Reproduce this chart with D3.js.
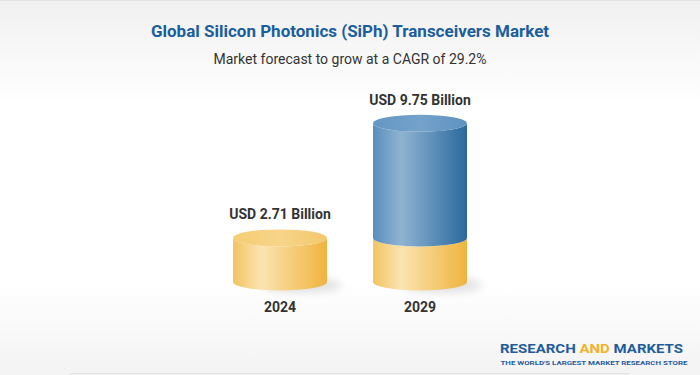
<!DOCTYPE html>
<html>
<head>
<meta charset="utf-8">
<script src="https://cdn.jsdelivr.net/npm/d3@7"></script>
<style>
  body { margin: 0; background: #fff; }
  svg { display: block; font-family: Roboto, "Noto Sans", sans-serif; }
</style>
</head>
<body>
<div id="chart"></div>
<script>
// chart data
const years = ["2024", "2029"];
const baseValues = [2.71, 2.71];   // yellow part (base year value)
const totalValues = [2.71, 9.75];  // full cylinder height
const valueLabels = ["USD 2.71 Billion", "USD 9.75 Billion"];

const title = "Global Silicon Photonics (SiPh) Transceivers Market";
const subtitle = "Market forecast to grow at a CAGR of 29.2%";

const width = 700;
const height = 375;

const svg = d3
	.select("#chart")
	.append("svg")
	.attr("width", width)
	.attr("height", height);

const defs = svg.append("defs");

// background gradient
const bg = defs
	.append("linearGradient")
	.attr("id", "bg")
	.attr("x1", 0).attr("y1", 0).attr("x2", 0).attr("y2", 1);
bg.append("stop").attr("offset", "0%").attr("stop-color", "#f0f0f0");
bg.append("stop").attr("offset", "28%").attr("stop-color", "#ffffff");
bg.append("stop").attr("offset", "75%").attr("stop-color", "#ffffff");
bg.append("stop").attr("offset", "100%").attr("stop-color", "#f3f3f3");

// horizontal shading for cylinders
function sideGradient(id, stops) {
	const g = defs
		.append("linearGradient")
		.attr("id", id)
		.attr("x1", 0).attr("y1", 0).attr("x2", 1).attr("y2", 0);
	stops.forEach(([o, c]) => g.append("stop").attr("offset", o).attr("stop-color", c));
}
sideGradient("yellowSide", [["0%", "#f2c461"], ["30%", "#fbe3b1"], ["100%", "#efb43e"]]);
sideGradient("blueSide", [["0%", "#5a8ebc"], ["30%", "#8fb3d2"], ["100%", "#2a699e"]]);
sideGradient("yellowTop", [["0%", "#f5cd74"], ["50%", "#f7d48a"], ["100%", "#f3c86d"]]);
sideGradient("blueTop", [["0%", "#6497c3"], ["50%", "#74a2ca"], ["100%", "#5e92c0"]]);

defs
	.append("filter")
	.attr("id", "blur")
	.attr("x", "-50%").attr("y", "-50%").attr("width", "200%").attr("height", "200%")
	.append("feGaussianBlur")
	.attr("stdDeviation", 5);

svg.append("rect").attr("width", width).attr("height", height).attr("fill", "url(#bg)");
svg.append("line")
	.attr("x1", 0).attr("x2", width).attr("y1", 0.5).attr("y2", 0.5)
	.attr("stroke", "#e4e4e4");
svg.append("line")
	.attr("x1", 70).attr("x2", 630).attr("y1", 373.5).attr("y2", 373.5)
	.attr("stroke", "#e2e2e2");

// titles
svg.append("text")
	.attr("x", width / 2)
	.attr("y", 37)
	.attr("text-anchor", "middle")
	.style("font-size", "17px")
	.style("font-weight", "bold")
	.style("fill", "#1b5e9c")
	.text(title);

svg.append("text")
	.attr("x", width / 2)
	.attr("y", 64)
	.attr("text-anchor", "middle")
	.style("font-size", "14px")
	.style("fill", "#333")
	.text(subtitle);

// scales
const xScale = d3
	.scaleBand()
	.domain(years)
	.range([210, 490])
	.paddingInner(46 / 140)
	.paddingOuter(0.1643);

const yScale = d3.scaleLinear().domain([0, 10]).range([282, 119.2]);

const rx = xScale.bandwidth() / 2;
const ry = 8.5;

// body of a cylinder segment: lower-half arcs at top and bottom
function bodyPath(x0, yTop, yBot) {
	const x1 = x0 + 2 * rx;
	return `M${x0},${yTop} L${x0},${yBot} A${rx},${ry} 0 0 0 ${x1},${yBot} ` +
		`L${x1},${yTop} A${rx},${ry} 0 0 1 ${x0},${yTop} Z`;
}

const segments = years.map((year, i) => ({
	year,
	base: baseValues[i],
	total: totalValues[i],
	label: valueLabels[i],
}));

const groups = svg
	.selectAll("g.cyl")
	.data(segments)
	.enter()
	.append("g")
	.attr("class", "cyl");

// soft shadow
groups
	.append("ellipse")
	.attr("cx", (d) => xScale(d.year) + rx + 22)
	.attr("cy", yScale(0) + 3)
	.attr("rx", rx * 0.85)
	.attr("ry", 7)
	.attr("fill", "#000")
	.attr("opacity", 0.13)
	.attr("filter", "url(#blur)");

// yellow base part
groups
	.append("path")
	.attr("d", (d) => bodyPath(xScale(d.year), yScale(d.base), yScale(0)))
	.attr("fill", "url(#yellowSide)");

// blue growth part
groups
	.filter((d) => d.total > d.base)
	.append("path")
	.attr("d", (d) => bodyPath(xScale(d.year), yScale(d.total), yScale(d.base)))
	.attr("fill", "url(#blueSide)");

// top cap
groups
	.append("ellipse")
	.attr("cx", (d) => xScale(d.year) + rx)
	.attr("cy", (d) => yScale(d.total))
	.attr("rx", rx)
	.attr("ry", ry)
	.attr("fill", (d) => (d.total > d.base ? "url(#blueTop)" : "url(#yellowTop)"));

// value labels
groups
	.append("text")
	.attr("x", (d) => xScale(d.year) + rx)
	.attr("y", (d) => yScale(d.total) - ry - 10)
	.attr("text-anchor", "middle")
	.style("font-size", "14px")
	.style("font-weight", "bold")
	.style("fill", "#333")
	.text((d) => d.label);

// year labels
groups
	.append("text")
	.attr("x", (d) => xScale(d.year) + rx)
	.attr("y", 312)
	.attr("text-anchor", "middle")
	.style("font-size", "14px")
	.style("font-weight", "bold")
	.style("fill", "#333")
	.text((d) => d.year);

// logo
const logo = svg.append("g");
const logoText = logo
	.append("text")
	.attr("x", 500)
	.attr("y", 352.7)
	.attr("textLength", 183)
	.attr("lengthAdjust", "spacingAndGlyphs")
	.style("font-size", "13px")
	.style("font-weight", "bold")
	.style("fill", "#1f5c9c");
logoText.append("tspan").text("RESEARCH ");
logoText.append("tspan").style("fill", "#f3b22a").text("AND");
logoText.append("tspan").text(" MARKETS");

logo
	.append("text")
	.attr("x", 500.5)
	.attr("y", 365)
	.attr("textLength", 187)
	.attr("lengthAdjust", "spacingAndGlyphs")
	.style("font-size", "6px")
	.style("font-weight", "bold")
	.style("fill", "#1f5c9c")
	.text("THE WORLD'S LARGEST MARKET RESEARCH STORE");
</script>
</body>
</html>
